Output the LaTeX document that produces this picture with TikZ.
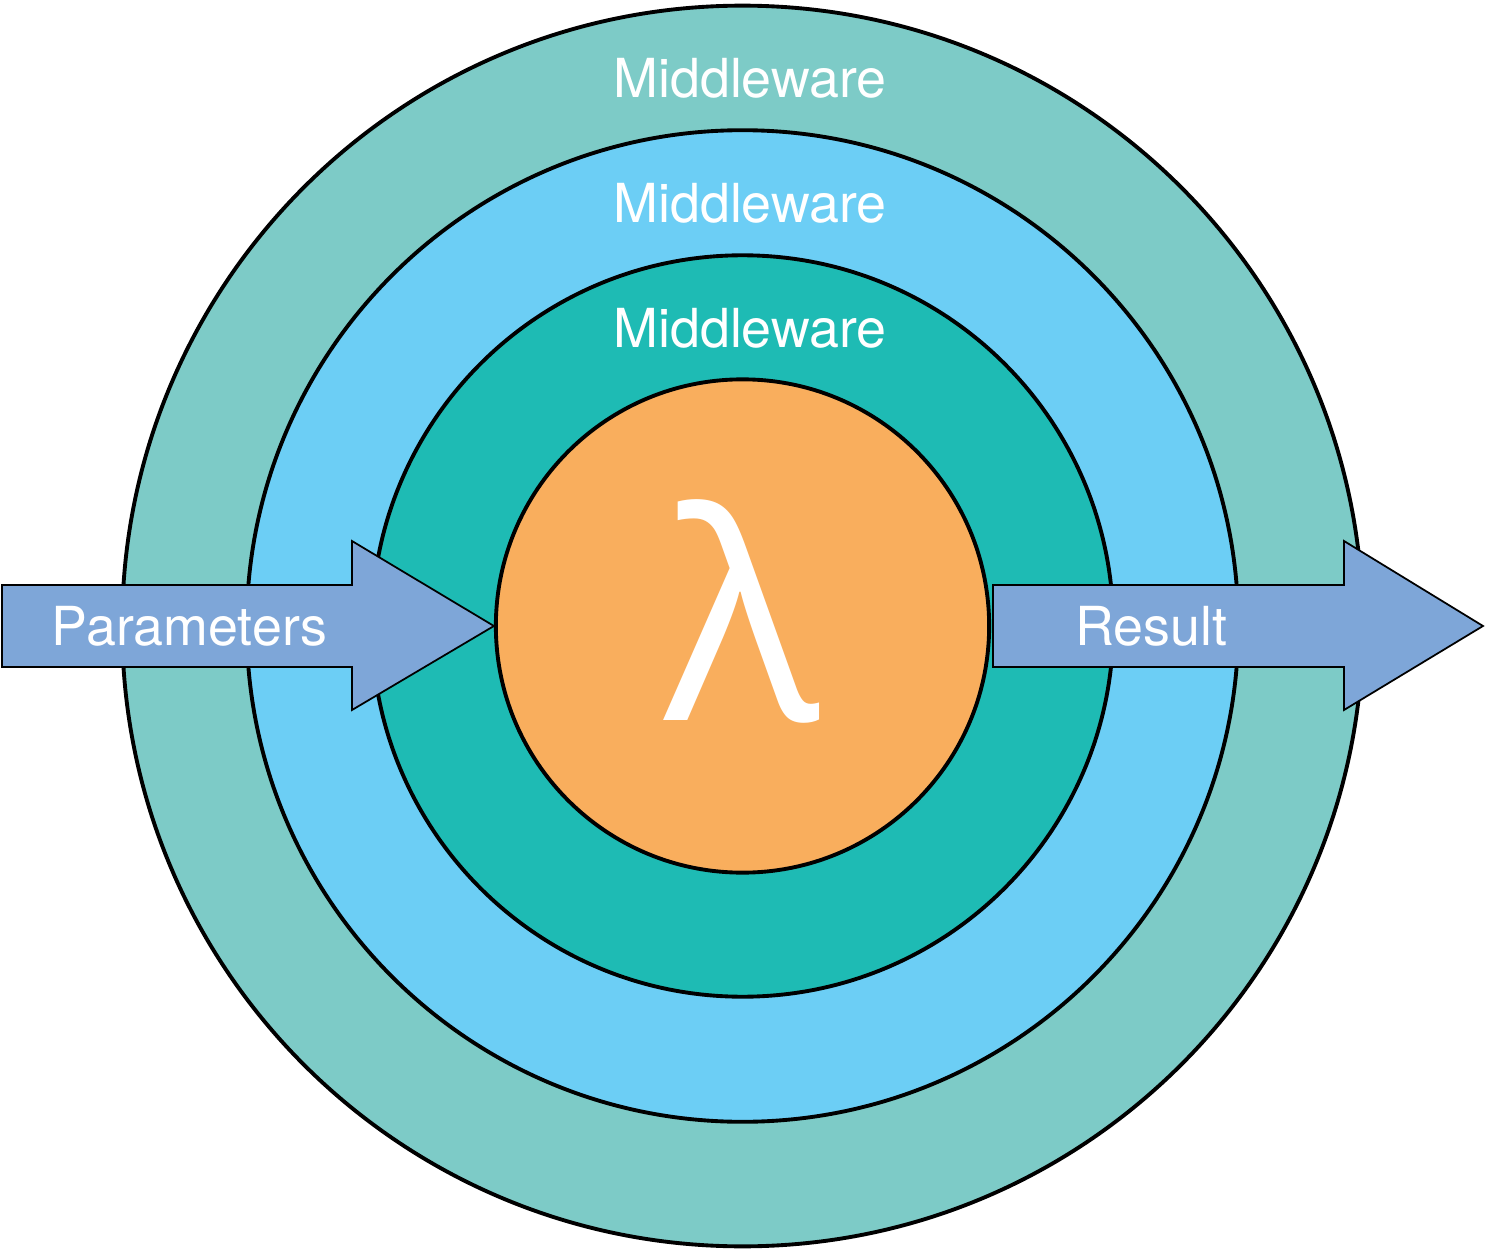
\documentclass[tikz,border=0pt]{standalone}
\usepackage{fontspec}
\setmainfont{TeX Gyre Heros}
\newfontfamily\lambdafont{Open Sans}
\usepackage{xcolor}
\usetikzlibrary{positioning}

\definecolor{ringouter}{HTML}{7DCBC7}
\definecolor{ringblue}{HTML}{6CCEF5}
\definecolor{ringteal}{HTML}{1EBBB4}
\definecolor{coreorange}{HTML}{F9AE5D}
\definecolor{flowblue}{HTML}{7EA6D8}

\tikzset{
  ring/.style={circle, draw=black, line width=1.1pt, inner sep=0pt},
  ringlabel/.style={text=white, inner sep=0pt, anchor=base,
                    font=\fontsize{15.3}{18}\selectfont},
  flow/.style={draw=black, fill=flowblue, line width=0.5pt, line join=miter},
}

\begin{document}
\begin{tikzpicture}[x=0.01cm, y=-0.01cm]
  \useasboundingbox (0,0) rectangle (1485,1252);

  % rings, outermost first
  \node[ring, fill=ringouter, minimum size=12.40cm] (mwouter) at (742.5,626) {};
  \node[ring, fill=ringblue, minimum size=9.91cm] (mwmiddle) at (742.5,626) {};
  \node[ring, fill=ringteal, minimum size=7.41cm] (mwinner) at (742.5,626) {};
  \node[ring, fill=coreorange, minimum size=4.93cm] (core) at (742.5,626) {};

  \node[ringlabel] (lblouter) at (750,98) {Middleware};
  \node[ringlabel] (lblmiddle) at (750,223) {Middleware};
  \node[ringlabel] (lblinner) at (750,348) {Middleware};

  \node[text=white, inner sep=0pt, anchor=base,
        font=\lambdafont\fontsize{82}{90}\selectfont] (lambda) at (743,720) {λ};

  % input arrow
  \coordinate (intip) at (core.west);
  \draw[flow] (2,585) -- (352,585) -- (352,541) -- (intip)
    -- (352,710) -- (352,667) -- (2,667) -- cycle;
  \node[ringlabel] (params) at (189.5,645) {Parameters};

  % output arrow
  \coordinate (outtip) at (1483,626);
  \draw[flow] (993,585) -- (1344,585) -- (1344,541) -- (outtip)
    -- (1344,710) -- (1344,667) -- (993,667) -- cycle;
  \node[ringlabel] (result) at (1151,645) {Result};
\end{tikzpicture}
\end{document}
